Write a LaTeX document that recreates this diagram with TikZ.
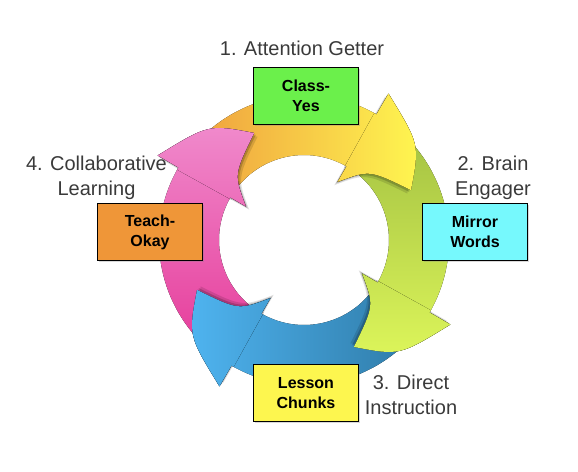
\documentclass[tikz,border=0pt]{standalone}
\usepackage{fontspec}
\setmainfont{Liberation Sans}
\usetikzlibrary{shadows}

\definecolor{boxgreen}{HTML}{6BF04B}
\definecolor{boxcyan}{HTML}{76F9FD}
\definecolor{boxorange}{HTML}{EF9638}
\definecolor{boxyellow}{HTML}{FDF64F}
\definecolor{labelgray}{HTML}{3A3A3A}
\definecolor{yellowtail}{HTML}{EFA03E}
\definecolor{yellowhead}{HTML}{FFF650}
\definecolor{greentail}{HTML}{A3C142}
\definecolor{greenhead}{HTML}{DCF55A}
\definecolor{bluehead}{HTML}{4FB4F0}
\definecolor{bluetail}{HTML}{2F7BA8}
\definecolor{pinktail}{HTML}{E63C9A}
\definecolor{pinkhead}{HTML}{F08ACC}

\tikzset{
  stepbox/.style={draw=black, line width=1.4pt, minimum width=105pt, minimum height=57pt,
    inner sep=0pt, align=center, font=\fontsize{16}{20}\selectfont\bfseries,
    drop shadow={opacity=0.3, shadow xshift=1.5pt, shadow yshift=-1.5pt}},
  steplabel/.style={align=center, text=labelgray, font=\fontsize{20}{25}\selectfont},
  arrowyellow/.style={left color=yellowtail, right color=yellowhead},
  arrowgreen/.style={top color=greentail, bottom color=greenhead},
  arrowblue/.style={left color=bluehead, right color=bluetail},
  arrowpink/.style={bottom color=pinktail, top color=pinkhead},
  arrowpath/.style 2 args={insert path={(#2:145pt) arc[start angle=#2, end angle=#1, radius=145pt]
    -- (#1:169pt) .. controls ({#1-20.5}:150pt) .. ({#1-35}:118pt)
    .. controls ({#1-13}:96pt) .. (#1:67pt) -- (#1:85pt)
    arc[start angle=#1, end angle=#2, radius=85pt] -- cycle}}
}

\begin{document}
\begin{tikzpicture}[x=1pt,y=1pt]
    \useasboundingbox (-304,-231) rectangle (274,240);
    % the four arrows of the cycle
    \foreach \b/\s/\sty in {60/140/arrowyellow, -30/50/arrowgreen, -120/-40/arrowblue, -210/-130/arrowpink}
        \fill[\sty, arrowpath={\b}{\s}];
    % heads again, over the tail of the next arrow
    \foreach \b/\s/\sty in {60/140/arrowyellow, -30/50/arrowgreen, -120/-40/arrowblue, -210/-130/arrowpink}{
        \begin{scope}
            \clip (0,0) -- ({\b+1}:200pt) arc[start angle=\b+1, end angle=\b-40, radius=200pt] -- cycle;
            \fill[black, opacity=0.12, shift={({\b+163}:5pt)}, arrowpath={\b}{\s}];
            \fill[black, opacity=0.18, shift={({\b+163}:2.5pt)}, arrowpath={\b}{\s}];
            \fill[\sty, arrowpath={\b}{\s}];
        \end{scope}
    }
    \node[stepbox, fill=boxgreen] (classyes) at (2,144) {Class-\\Yes};
    \node[stepbox, fill=boxcyan] (mirror) at (171,8) {Mirror\\Words};
    \node[stepbox, fill=boxyellow] (lesson) at (2,-153) {Lesson\\Chunks};
    \node[stepbox, fill=boxorange] (teach) at (-154,8) {Teach-\\Okay};
    \node[steplabel] (attention) at (-2,192) {1. Attention Getter};
    \node[steplabel] (brain) at (189,62) {2. Brain\\Engager};
    \node[steplabel] (direct) at (107,-155) {3. Direct\\Instruction};
    \node[steplabel] (collab) at (-207.5,62) {4. Collaborative\\Learning};
\end{tikzpicture}
\end{document}
